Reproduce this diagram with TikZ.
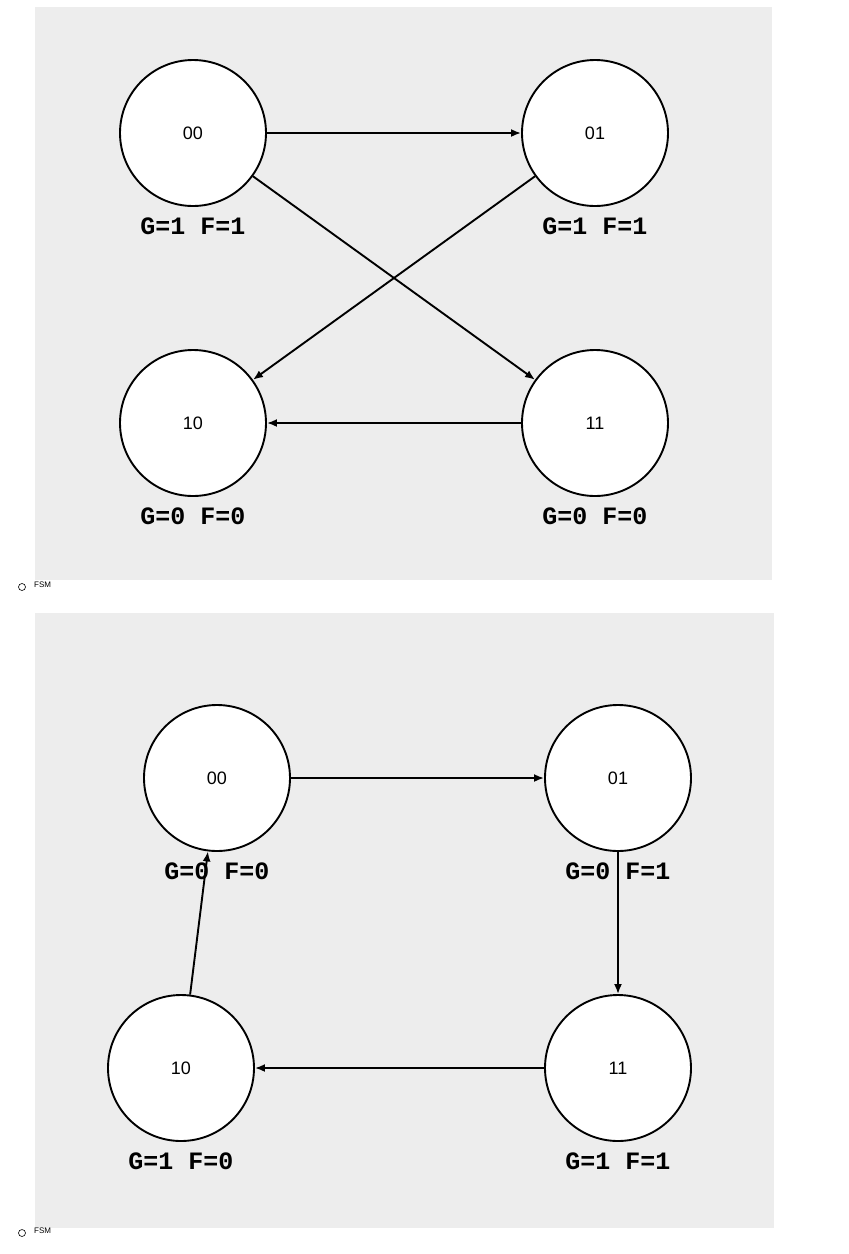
\documentclass[tikz,border=0pt]{standalone}
\usepackage{fontspec}
\setmainfont{Liberation Sans}
\newfontfamily\monof{Liberation Mono}
\usetikzlibrary{arrows.meta}
\begin{document}
\begin{tikzpicture}[x=1pt,y=-1pt,
 st/.style={circle,draw,line width=1.9pt,fill=white,minimum size=146pt,inner sep=0pt,font=\fontsize{18}{18}\selectfont},
 lab/.style={font=\monof\bfseries\fontsize{25}{25}\selectfont,inner sep=0pt},
 tr/.style={-{Latex[length=10pt,width=8pt]},line width=1.9pt},
 captxt/.style={font=\fontsize{8}{8}\selectfont,inner sep=0pt,anchor=west}]
\useasboundingbox (0,0) rectangle (849,1254);
\fill[white] (0,0) rectangle (849,1254);
\fill[black!7] (35,7) rectangle (772,580);
\fill[black!7] (35,613) rectangle (774,1228);
\node[circle,draw,line width=0.6pt,minimum size=7pt,inner sep=0pt] (r1) at (22,587) {};
\node[captxt] (c1) at (34,585) {FSM};
\node[circle,draw,line width=0.6pt,minimum size=7pt,inner sep=0pt] (r2) at (22,1233) {};
\node[captxt] (c2) at (34,1231) {FSM};
% top
\node[st] (a) at (193,133) {00};
\node[st] (b) at (595,133) {01};
\node[st] (c) at (193,423) {10};
\node[st] (d) at (595,423) {11};
\node[lab] (la) at (193,226) {G=1 F=1};
\node[lab] (lb) at (595,226) {G=1 F=1};
\node[lab] (lc) at (193,516) {G=0 F=0};
\node[lab] (ld) at (595,516) {G=0 F=0};
\draw[tr] (a) -- (b);
\draw[tr] (a) -- (d);
\draw[tr] (b) -- (c);
\draw[tr] (d) -- (c);
% bottom
\node[st] (e) at (217,778) {00};
\node[st] (f) at (618,778) {01};
\node[st] (g) at (181,1068) {10};
\node[st] (h) at (618,1068) {11};
\draw[tr] (e) -- (f);
\draw[tr] (f) -- (h);
\draw[tr] (h) -- (g);
\draw[tr] (g) -- (e);
\node[lab] (le) at (217,871) {G=0 F=0};
\node[lab] (lf) at (618,871) {G=0 F=1};
\node[lab] (lg) at (181,1161) {G=1 F=0};
\node[lab] (lh) at (618,1161) {G=1 F=1};
\end{tikzpicture}
\end{document}
